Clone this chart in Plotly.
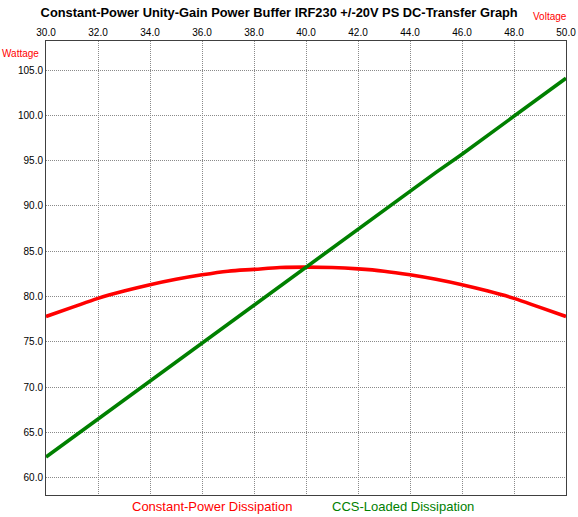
import plotly.graph_objects as go

# Voltage sweep (V)
voltage = [30, 31, 32, 33, 34, 35, 36, 37, 38, 39, 40,
           41, 42, 43, 44, 45, 46, 47, 48, 49, 50]

# Dissipation (W)
constant_power = [77.8, 78.8, 79.8, 80.6, 81.3, 81.9, 82.4, 82.8, 83.0, 83.2, 83.25,
                  83.2, 83.05, 82.8, 82.4, 81.9, 81.3, 80.6, 79.8, 78.8, 77.8]
ccs_loaded = [62.3, 64.4, 66.5, 68.6, 70.7, 72.8, 74.8, 76.9, 79.0, 81.1, 83.2,
              85.3, 87.4, 89.5, 91.6, 93.7, 95.7, 97.8, 99.9, 102.0, 104.1]

x_ticks = [30, 32, 34, 36, 38, 40, 42, 44, 46, 48, 50]
y_ticks = [60, 65, 70, 75, 80, 85, 90, 95, 100, 105]

FONT = "Liberation Sans, Arial, sans-serif"
RED = "#ff0000"
GREEN = "#008000"

fig = go.Figure()

fig.add_trace(go.Scatter(
    x=voltage, y=constant_power, mode="lines",
    line=dict(color=RED, width=3.6, shape="spline"),
    name="Constant-Power Dissipation", showlegend=False
))
fig.add_trace(go.Scatter(
    x=voltage, y=ccs_loaded, mode="lines",
    line=dict(color=GREEN, width=3.6),
    name="CCS-Loaded Dissipation", showlegend=False
))

grid = dict(showgrid=True, gridcolor="#8a8a8a", griddash="1px,1px", gridwidth=1,
            showline=True, linecolor="#404040", linewidth=1, mirror=True,
            zeroline=False, ticks="", automargin=False,
            tickfont=dict(family=FONT, size=10, color="black"))

fig.update_xaxes(
    range=[30, 50], side="top", tickvals=x_ticks,
    ticktext=[f"{v:.1f}" for v in x_ticks], **grid
)
fig.update_yaxes(
    range=[58.1, 108.2], tickvals=y_ticks,
    ticktext=[f"{v:.1f}" for v in y_ticks], **grid
)

fig.update_layout(
    width=578, height=517,
    margin=dict(l=46, r=12, t=41, b=22),
    paper_bgcolor="white", plot_bgcolor="white",
    font=dict(family=FONT),
    title=dict(
        text="<b>Constant-Power Unity-Gain Power Buffer IRF230 +/-20V PS DC-Transfer Graph</b>",
        x=0.483, xanchor="center", y=0.985, yanchor="top",
        font=dict(family=FONT, size=12.85, color="black")
    ),
    annotations=[
        dict(text="Voltage", xref="paper", yref="paper", x=1.0, y=1.0,
             xanchor="right", yanchor="bottom", xshift=3, yshift=17, showarrow=False,
             font=dict(family=FONT, size=10, color=RED)),
        dict(text="Wattage", xref="paper", yref="paper", x=0, y=1.0,
             xanchor="right", yanchor="top", xshift=-5, yshift=-5, showarrow=False,
             font=dict(family=FONT, size=10, color=RED)),
        dict(text="Constant-Power Dissipation", xref="paper", yref="paper",
             x=0.320, y=0, xanchor="center", yanchor="top", yshift=-2, showarrow=False,
             font=dict(family=FONT, size=13, color=RED)),
        dict(text="CCS-Loaded Dissipation", xref="paper", yref="paper",
             x=0.686, y=0, xanchor="center", yanchor="top", yshift=-2, showarrow=False,
             font=dict(family=FONT, size=13, color=GREEN)),
    ],
)

fig.write_html("out.html", config={"displayModeBar": False},
               post_script="document.body.style.margin='0';")
